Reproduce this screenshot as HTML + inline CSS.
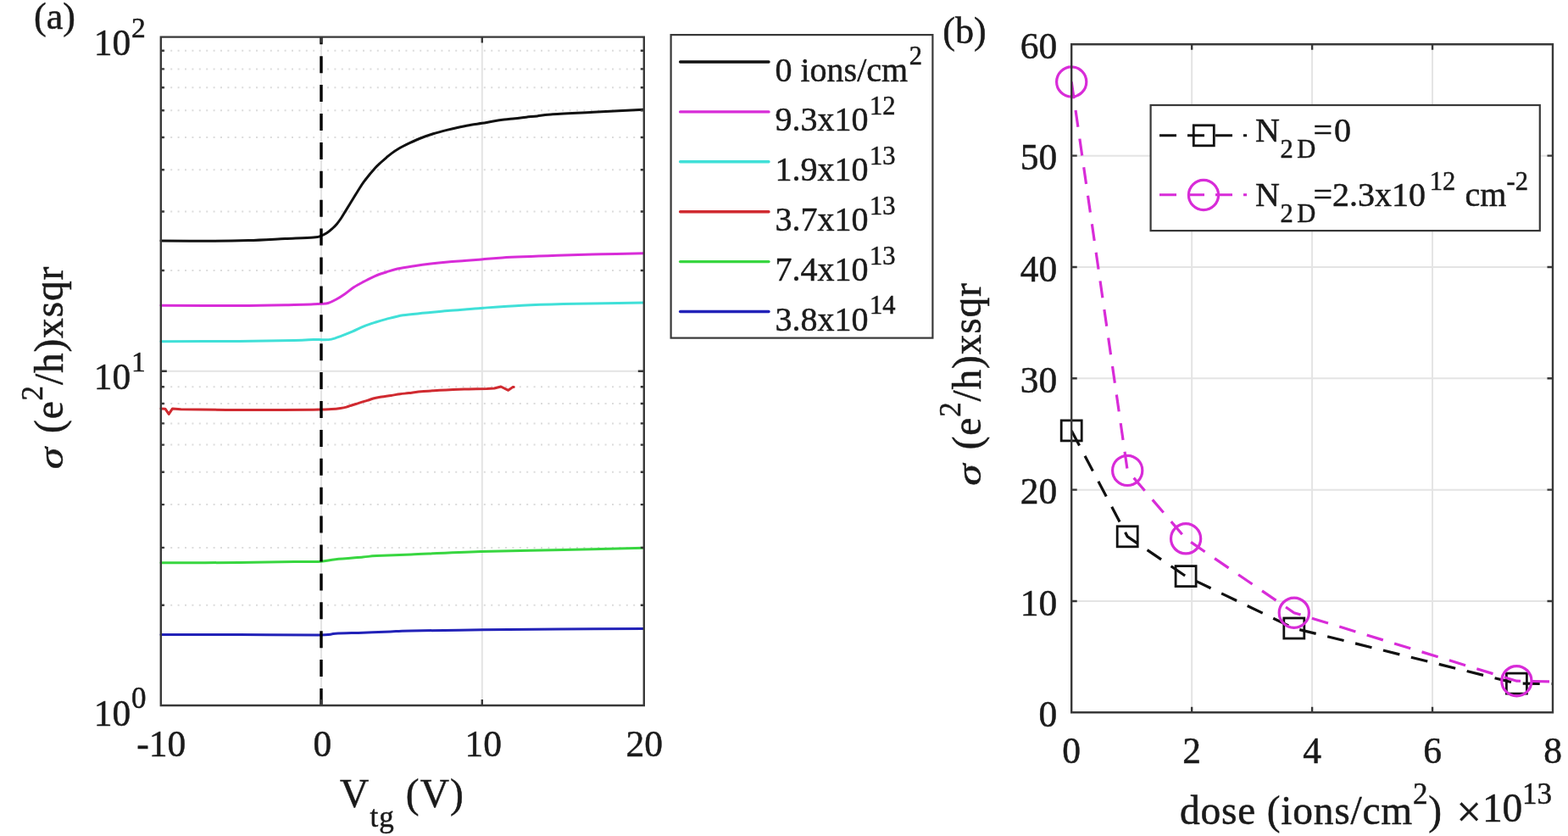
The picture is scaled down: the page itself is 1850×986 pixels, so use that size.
<!DOCTYPE html>
<html><head><meta charset="utf-8"><title>figure</title><style>html,body{margin:0;padding:0;background:#fff;overflow:hidden}svg{display:block;filter:blur(0.45px)}text{stroke:#1a1a1a;stroke-width:0.5px}</style></head><body>
<svg width="1850" height="986" viewBox="0 0 1850 986" font-family="&quot;Liberation Serif&quot;, serif" fill="#1a1a1a">
<rect width="1850" height="986" fill="#fff"/>
<path d="M192.8,59.80H759.8M192.8,81.40H759.8M192.8,103.30H759.8M192.8,130.20H759.8M192.8,162.00H759.8M192.8,200.30H759.8M192.8,249.50H759.8M192.8,319.00H759.8M192.8,456.20H759.8M192.8,476.00H759.8M192.8,499.40H759.8M192.8,524.60H759.8M192.8,556.80H759.8M192.8,595.10H759.8M192.8,645.90H759.8M192.8,713.70H759.8" stroke="#dcdcdc" stroke-width="2" stroke-dasharray="2 6.4" fill="none"/>
<path d="M189.8,437.80H759.8M379.00,43.6V832.0M568.80,43.6V832.0" stroke="#e4e4e4" stroke-width="2" fill="none"/>
<g fill="none" stroke-width="3" stroke-linejoin="round" stroke-linecap="round">
<path d="M190.00,284.00 C199.98,284.05 232.72,284.37 249.90,284.30 C267.08,284.23 278.68,284.05 293.10,283.60 C307.52,283.15 323.58,282.20 336.40,281.60 C349.22,281.00 363.13,280.48 370.00,280.00 C376.87,279.52 375.00,279.57 377.60,278.70 C380.20,277.83 383.17,276.33 385.60,274.80 C388.03,273.27 390.23,271.27 392.20,269.50 C394.17,267.73 395.65,266.28 397.40,264.20 C399.15,262.12 400.93,259.63 402.70,257.00 C404.47,254.37 406.23,251.27 408.00,248.40 C409.77,245.53 411.55,242.67 413.30,239.80 C415.05,236.93 416.75,234.05 418.50,231.20 C420.25,228.35 422.03,225.45 423.80,222.70 C425.57,219.95 427.12,217.45 429.10,214.70 C431.08,211.95 433.50,208.92 435.70,206.20 C437.90,203.48 440.10,200.77 442.30,198.40 C444.50,196.03 446.62,194.10 448.90,192.00 C451.18,189.90 453.75,187.70 456.00,185.80 C458.25,183.90 459.98,182.35 462.40,180.60 C464.82,178.85 467.78,176.93 470.50,175.30 C473.22,173.67 474.63,172.77 478.70,170.80 C482.77,168.83 489.50,165.67 494.90,163.50 C500.30,161.33 505.70,159.48 511.10,157.80 C516.50,156.12 521.98,154.73 527.30,153.40 C532.62,152.07 538.23,150.83 543.00,149.80 C547.77,148.77 551.58,147.95 555.90,147.20 C560.22,146.45 564.57,146.00 568.90,145.30 C573.23,144.60 577.57,143.70 581.90,143.00 C586.23,142.30 590.58,141.63 594.90,141.10 C599.22,140.57 603.48,140.28 607.80,139.80 C612.12,139.32 616.47,138.68 620.80,138.20 C625.13,137.72 628.93,137.45 633.80,136.90 C638.67,136.35 638.97,135.67 650.00,134.90 C661.03,134.13 681.75,133.25 700.00,132.30 C718.25,131.35 749.58,129.72 759.50,129.20" stroke="#111111"/>
<path d="M190.00,360.30 C205.38,360.35 256.10,360.73 282.30,360.60 C308.50,360.47 332.58,359.80 347.20,359.50 C361.82,359.20 364.67,359.00 370.00,358.80 C375.33,358.60 376.35,358.52 379.20,358.30 C382.05,358.08 384.23,358.33 387.10,357.50 C389.97,356.67 393.10,355.10 396.40,353.30 C399.70,351.50 403.38,349.12 406.90,346.70 C410.42,344.28 413.77,341.22 417.50,338.80 C421.23,336.38 425.13,334.40 429.30,332.20 C433.47,330.00 438.10,327.47 442.50,325.60 C446.90,323.73 451.30,322.43 455.70,321.00 C460.10,319.57 463.40,318.22 468.90,317.00 C474.40,315.78 482.12,314.68 488.70,313.70 C495.28,312.72 501.82,311.87 508.40,311.10 C514.98,310.33 521.60,309.68 528.20,309.10 C534.80,308.52 541.87,308.07 548.00,307.60 C554.13,307.13 557.58,306.92 565.00,306.30 C572.42,305.68 577.10,304.73 592.50,303.90 C607.90,303.07 637.82,301.98 657.40,301.30 C676.98,300.62 692.98,300.23 710.00,299.80 C727.02,299.37 751.25,298.88 759.50,298.70" stroke="#d82cd8"/>
<path d="M190.00,402.80 C205.38,402.73 256.10,402.60 282.30,402.40 C308.50,402.20 332.58,401.92 347.20,401.60 C361.82,401.28 364.45,400.65 370.00,400.50 C375.55,400.35 376.98,400.77 380.50,400.70 C384.02,400.63 387.35,400.87 391.10,400.10 C394.85,399.33 398.83,397.63 403.00,396.10 C407.17,394.57 411.72,392.77 416.10,390.90 C420.48,389.03 424.90,386.67 429.30,384.90 C433.70,383.13 438.10,381.72 442.50,380.30 C446.90,378.88 450.20,377.83 455.70,376.40 C461.20,374.97 467.82,372.92 475.50,371.70 C483.18,370.48 493.02,369.97 501.80,369.10 C510.58,368.23 519.40,367.27 528.20,366.50 C537.00,365.73 547.63,365.05 554.60,364.50 C561.57,363.95 559.78,363.90 570.00,363.20 C580.22,362.50 600.13,361.07 615.90,360.30 C631.67,359.53 648.38,359.02 664.60,358.60 C680.82,358.18 697.38,358.07 713.20,357.80 C729.02,357.53 751.78,357.13 759.50,357.00" stroke="#40e0d8"/>
<path d="M190.00,663.80 C205.38,663.75 256.10,663.70 282.30,663.50 C308.50,663.30 331.25,662.82 347.20,662.60 C363.15,662.38 369.90,662.68 378.00,662.20 C386.10,661.72 387.43,660.57 395.80,659.70 C404.17,658.83 420.10,657.68 428.20,657.00 C436.30,656.32 434.93,656.12 444.40,655.60 C453.87,655.08 464.57,654.75 485.00,653.90 C505.43,653.05 537.00,651.42 567.00,650.50 C597.00,649.58 632.92,649.10 665.00,648.40 C697.08,647.70 743.75,646.65 759.50,646.30" stroke="#38d640"/>
<path d="M190.00,748.60 C205.38,748.60 250.97,748.55 282.30,748.60 C313.63,748.65 359.08,749.12 378.00,748.90 C396.92,748.68 387.43,747.75 395.80,747.30 C404.17,746.85 417.38,746.60 428.20,746.20 C439.02,745.80 451.23,745.27 460.70,744.90 C470.17,744.53 466.78,744.35 485.00,744.00 C503.22,743.65 540.83,743.13 570.00,742.80 C599.17,742.47 628.42,742.22 660.00,742.00 C691.58,741.78 742.92,741.58 759.50,741.50" stroke="#2222b8"/>
<path d="M190.0,482.0 L194.9,482.2 L199.2,488.4 L203.5,481.9 L213.4,482.7 L213.40,482.70 C217.00,482.73 223.15,482.75 235.00,482.90 C246.85,483.05 267.97,483.52 284.50,483.60 C301.03,483.68 319.95,483.45 334.20,483.40 C348.45,483.35 362.52,483.37 370.00,483.30 C377.48,483.23 375.58,483.12 379.10,483.00 C382.62,482.88 387.35,482.85 391.10,482.60 C394.85,482.35 398.67,481.92 401.60,481.50 C404.53,481.08 406.35,480.73 408.70,480.10 C411.05,479.47 413.37,478.45 415.70,477.70 C418.03,476.95 419.78,476.48 422.70,475.60 C425.62,474.72 430.27,473.33 433.20,472.40 C436.13,471.47 437.95,470.65 440.30,470.00 C442.65,469.35 443.78,469.10 447.30,468.50 C450.82,467.90 457.30,467.03 461.40,466.40 C465.50,465.77 468.40,465.17 471.90,464.70 C475.40,464.23 477.72,464.13 482.40,463.60 C487.08,463.07 491.30,462.18 500.00,461.50 C508.70,460.82 525.77,459.92 534.60,459.50 C543.43,459.08 546.33,459.15 553.00,459.00 C559.67,458.85 571.00,458.67 574.60,458.60 L583.2,458.0 L591.0,456.0 L599.7,460.3 L604.9,456.6 L606.2,456.4" stroke="#d02a30"/>
</g>
<path d="M379.00,832.0V43.6" stroke="#000" stroke-width="3.4" stroke-dasharray="20 13.9" fill="none"/>
<path d="M189.8,43.6H759.8V832.0H189.8ZM189.80,832.0v-7M189.80,43.6v7M379.00,832.0v-7M379.00,43.6v7M568.80,832.0v-7M568.80,43.6v7M759.80,832.0v-7M759.80,43.6v7M189.8,832.00h7M759.8,832.00h-7M189.8,437.80h7M759.8,437.80h-7M189.8,43.60h7M759.8,43.60h-7M189.8,59.80h4M759.8,59.80h-4M189.8,81.40h4M759.8,81.40h-4M189.8,103.30h4M759.8,103.30h-4M189.8,130.20h4M759.8,130.20h-4M189.8,162.00h4M759.8,162.00h-4M189.8,200.30h4M759.8,200.30h-4M189.8,249.50h4M759.8,249.50h-4M189.8,319.00h4M759.8,319.00h-4M189.8,456.20h4M759.8,456.20h-4M189.8,476.00h4M759.8,476.00h-4M189.8,499.40h4M759.8,499.40h-4M189.8,524.60h4M759.8,524.60h-4M189.8,556.80h4M759.8,556.80h-4M189.8,595.10h4M759.8,595.10h-4M189.8,645.90h4M759.8,645.90h-4M189.8,713.70h4M759.8,713.70h-4" stroke="#383838" stroke-width="2.4" fill="none"/>
<text x="190.3" y="891.5" font-size="43.5" text-anchor="middle">-10</text>
<text x="380.3" y="891.5" font-size="43.5" text-anchor="middle">0</text>
<text x="570.3" y="891.5" font-size="43.5" text-anchor="middle">10</text>
<text x="760.3" y="891.5" font-size="43.5" text-anchor="middle">20</text>
<text x="154.3" y="65.1" font-size="43.5" text-anchor="end">10</text>
<text x="155" y="43.9" font-size="33.5">2</text>
<text x="154.3" y="459.2" font-size="43.5" text-anchor="end">10</text>
<text x="155" y="438.0" font-size="33.5">1</text>
<text x="154.3" y="856.0" font-size="43.5" text-anchor="end">10</text>
<text x="155" y="834.8" font-size="35.0">0</text>
<text x="474.5" y="952" font-size="47.5" text-anchor="middle" letter-spacing="1.1">V<tspan font-size="35.0" dy="23.4">tg</tspan><tspan dy="-23.4"> (V)</tspan></text>
<text transform="translate(73.7,553.3) rotate(-90) scale(1.3,1)" font-size="39.5" font-style="italic">σ</text>
<text transform="translate(74.0,510.9) rotate(-90)" font-size="47.5" letter-spacing="0.8">(e<tspan font-size="35.0" dy="-24.4">2</tspan><tspan dy="24.4">/h)xsqr</tspan></text>
<text x="40" y="33.5" font-size="44.0">(a)</text>
<rect x="791.6" y="41.1" width="308.8" height="357.5" fill="#fff" stroke="#383838" stroke-width="2.2"/>
<path d="M802.6,73.0H907" stroke="#111111" stroke-width="3.4" stroke-linecap="round"/>
<text x="914.5" y="95.5" font-size="40.0">0 ions/cm<tspan font-size="30.5" dx="1.5" dy="-19.6">2</tspan></text>
<path d="M802.6,131.9H907" stroke="#d82cd8" stroke-width="3.4" stroke-linecap="round"/>
<text x="914.5" y="154.4" font-size="40.0">9.3x10<tspan font-size="30.5" dx="1.5" dy="-19.6">12</tspan></text>
<path d="M802.6,190.8H907" stroke="#40e0d8" stroke-width="3.4" stroke-linecap="round"/>
<text x="914.5" y="213.3" font-size="40.0">1.9x10<tspan font-size="30.5" dx="1.5" dy="-19.6">13</tspan></text>
<path d="M802.6,249.7H907" stroke="#d02a30" stroke-width="3.4" stroke-linecap="round"/>
<text x="914.5" y="272.2" font-size="40.0">3.7x10<tspan font-size="30.5" dx="1.5" dy="-19.6">13</tspan></text>
<path d="M802.6,308.6H907" stroke="#38d640" stroke-width="3.4" stroke-linecap="round"/>
<text x="914.5" y="331.1" font-size="40.0">7.4x10<tspan font-size="30.5" dx="1.5" dy="-19.6">13</tspan></text>
<path d="M802.6,367.5H907" stroke="#2222b8" stroke-width="3.4" stroke-linecap="round"/>
<text x="914.5" y="390.0" font-size="40.0">3.8x10<tspan font-size="30.5" dx="1.5" dy="-19.6">14</tspan></text>
<path d="M1406.15,52.3V840.3M1548.10,52.3V840.3M1690.05,52.3V840.3M1264.2,708.97H1832.0M1264.2,577.63H1832.0M1264.2,446.30H1832.0M1264.2,314.97H1832.0M1264.2,183.63H1832.0" stroke="#e4e4e4" stroke-width="2" fill="none"/>
<defs><clipPath id="rclip"><rect x="1264.2" y="52.3" width="567.8" height="788.0"/></clipPath></defs>
<path d="M1264.20,507.90 L1330.21,632.80 L1399.05,679.60 L1526.81,741.00 L1789.41,806.10 L1840.00,806.60" stroke="#111" stroke-width="3.2" fill="none" stroke-dasharray="20 13.9" clip-path="url(#rclip)"/>
<rect x="1252.2" y="495.9" width="24" height="24" fill="none" stroke="#111" stroke-width="2.8"/>
<rect x="1318.2" y="620.8" width="24" height="24" fill="none" stroke="#111" stroke-width="2.8"/>
<rect x="1387.1" y="667.6" width="24" height="24" fill="none" stroke="#111" stroke-width="2.8"/>
<rect x="1514.8" y="729.0" width="24" height="24" fill="none" stroke="#111" stroke-width="2.8"/>
<rect x="1777.4" y="794.1" width="24" height="24" fill="none" stroke="#111" stroke-width="2.8"/>
<path d="M1264.20,96.50 L1330.21,554.90 L1399.05,635.30 L1526.81,722.70 L1789.41,803.20 L1840.00,804.00" stroke="#d82cd8" stroke-width="3.2" fill="none" stroke-dasharray="20 13.9" clip-path="url(#rclip)"/>
<circle cx="1264.2" cy="96.5" r="17.6" fill="none" stroke="#d82cd8" stroke-width="3.2"/>
<circle cx="1330.2" cy="554.9" r="17.6" fill="none" stroke="#d82cd8" stroke-width="3.2"/>
<circle cx="1399.1" cy="635.3" r="17.6" fill="none" stroke="#d82cd8" stroke-width="3.2"/>
<circle cx="1526.8" cy="722.7" r="17.6" fill="none" stroke="#d82cd8" stroke-width="3.2"/>
<circle cx="1789.4" cy="803.2" r="17.6" fill="none" stroke="#d82cd8" stroke-width="3.2"/>
<path d="M1264.2,52.3H1832.0V840.3H1264.2ZM1264.20,840.3v-6.5M1264.20,52.3v6.5M1406.15,840.3v-6.5M1406.15,52.3v6.5M1548.10,840.3v-6.5M1548.10,52.3v6.5M1690.05,840.3v-6.5M1690.05,52.3v6.5M1832.00,840.3v-6.5M1832.00,52.3v6.5M1264.2,840.30h6.5M1832.0,840.30h-6.5M1264.2,708.97h6.5M1832.0,708.97h-6.5M1264.2,577.63h6.5M1832.0,577.63h-6.5M1264.2,446.30h6.5M1832.0,446.30h-6.5M1264.2,314.97h6.5M1832.0,314.97h-6.5M1264.2,183.63h6.5M1832.0,183.63h-6.5M1264.2,52.30h6.5M1832.0,52.30h-6.5" stroke="#383838" stroke-width="2.4" fill="none"/>
<text x="1264.2" y="899.5" font-size="43.5" text-anchor="middle">0</text>
<text x="1406.2" y="899.5" font-size="43.5" text-anchor="middle">2</text>
<text x="1548.1" y="899.5" font-size="43.5" text-anchor="middle">4</text>
<text x="1690.0" y="899.5" font-size="43.5" text-anchor="middle">6</text>
<text x="1832.0" y="899.5" font-size="43.5" text-anchor="middle">8</text>
<text x="1247.3" y="857.0" font-size="43.5" text-anchor="end">0</text>
<text x="1247.3" y="725.7" font-size="43.5" text-anchor="end">10</text>
<text x="1247.3" y="594.3" font-size="43.5" text-anchor="end">20</text>
<text x="1247.3" y="463.0" font-size="43.5" text-anchor="end">30</text>
<text x="1247.3" y="331.7" font-size="43.5" text-anchor="end">40</text>
<text x="1247.3" y="200.3" font-size="43.5" text-anchor="end">50</text>
<text x="1247.3" y="69.0" font-size="43.5" text-anchor="end">60</text>
<text x="1392" y="972" font-size="47.5" letter-spacing="0.75">dose (ions/cm<tspan font-size="35.0" dy="-24">2</tspan><tspan dy="24">)</tspan></text>
<text x="1718.6" y="975.2" font-size="52">×</text>
<text y="969.2" font-size="47.5"><tspan x="1749">1</tspan><tspan x="1772.5">0</tspan><tspan font-size="35.0" x="1796" y="947.6">13</tspan></text>
<text transform="translate(1157.0,572.7) rotate(-90) scale(1.3,1)" font-size="39.5" font-style="italic">σ</text>
<text transform="translate(1157.3,530.3) rotate(-90)" font-size="47.5" letter-spacing="0.8">(e<tspan font-size="35.0" dy="-24.4">2</tspan><tspan dy="24.4">/h)xsqr</tspan></text>
<text x="1112.3" y="51" font-size="44.0">(b)</text>
<rect x="1357.6" y="124" width="459.2" height="148.1" fill="#fff" stroke="#383838" stroke-width="2.2"/>
<path d="M1368,159.8H1471" stroke="#111" stroke-width="3" stroke-dasharray="20 13"/>
<rect x="1408.3" y="147.8" width="24" height="24" fill="none" stroke="#111" stroke-width="2.8"/>
<path d="M1368,229.7H1471" stroke="#d82cd8" stroke-width="3" stroke-dasharray="20 13"/>
<circle cx="1420" cy="230" r="17.6" fill="none" stroke="#d82cd8" stroke-width="3.2"/>
<text y="166.9" font-size="40.0"><tspan x="1481">N</tspan><tspan font-size="30.5" x="1510.5" y="186.4">2</tspan><tspan font-size="30.5" x="1530.3">D</tspan><tspan x="1549.4" y="166.9">=</tspan><tspan dx="2">0</tspan></text>
<text y="243.3" font-size="40.0"><tspan x="1481">N</tspan><tspan font-size="30.5" x="1510.5" y="261.6">2</tspan><tspan font-size="30.5" x="1530.3">D</tspan><tspan x="1549.4" y="243.3">=2.3x10</tspan><tspan font-size="30.5" x="1686.8" y="224">12</tspan><tspan x="1728.5" y="243.3">cm</tspan><tspan font-size="30.5" x="1777.6" y="224">-2</tspan></text>
</svg>
</body></html>
